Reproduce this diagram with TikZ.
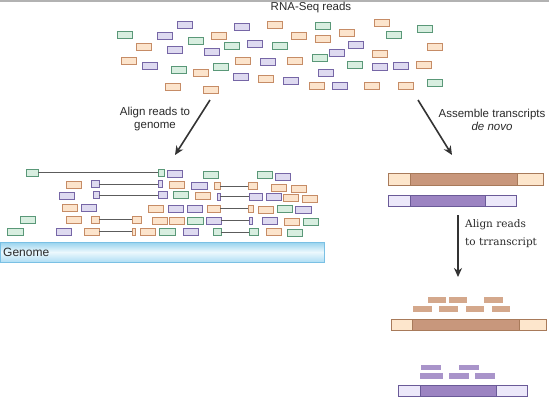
\documentclass[tikz,border=0pt]{standalone}
\usepackage{fontspec}
\setmainfont{Liberation Sans}
\newfontfamily\serifb{DejaVu Serif}
\usetikzlibrary{arrows.meta}
\definecolor{gB}{HTML}{5A9878}\definecolor{gF}{HTML}{D8EEE0}
\definecolor{pB}{HTML}{7666A6}\definecolor{pF}{HTML}{DEDAF0}
\definecolor{oB}{HTML}{C68C66}\definecolor{oF}{HTML}{FCE4CC}
\definecolor{txt}{HTML}{2A2A2A}
\definecolor{arr}{HTML}{333333}
\definecolor{trOB}{HTML}{A87A5A}\definecolor{trOL}{HTML}{FDE6CC}\definecolor{trOD}{HTML}{C8977C}
\definecolor{trPB}{HTML}{6A5A98}\definecolor{trPL}{HTML}{ECE8FA}\definecolor{trPD}{HTML}{9C84C2}
\definecolor{srO}{HTML}{D4A88C}\definecolor{srP}{HTML}{A994CA}
\tikzset{
  read/.style={rectangle, inner sep=0pt, line width=0.9pt, minimum width=15pt, minimum height=7pt},
  g/.style={read, draw=gB, fill=gF},
  p/.style={read, draw=pB, fill=pF},
  o/.style={read, draw=oB, fill=oF},
  splice/.style={draw=arr!80, line width=0.7pt},
  bigarrow/.style={draw=arr, line width=1.6pt, -{Stealth[length=9pt,width=8pt]}},
  lbl/.style={font=\fontsize{11.5}{13}\selectfont, text=txt, align=center, inner sep=0pt},
}
% aligned read: name, style, x1, x2, yc
\newcommand\arr[5]{\node[#2, minimum width={(#4-#3)*1pt}] (#1) at ({(#3+#4)/2},#5) {};}
% small right read: name, colour, x1, x2, y1, y2
\newcommand\srd[6]{\node[rectangle, inner sep=0pt, fill=#2, minimum width={(#4-#3)*1pt}, minimum height={(#6-#5)*1pt}] (#1) at ({(#3+#4)/2},{(#5+#6)/2}) {};}
\begin{document}
\begin{tikzpicture}[x=1pt,y=-1pt]
\useasboundingbox (0,0) rectangle (549,410);
\fill[white] (0,0) rectangle (549,410);
\draw[black!30, line width=1.5pt] (0,0.75) -- (549,0.75);

% ---- raw reads
\node[lbl] (title) at (311,8) {RNA-Seq reads};
\foreach \s/\x/\y [count=\i] in {
 g/125/34.5, p/184.5/24.5, p/164.5/35.5, o/143.5/46.5, p/174.5/49.5, o/128.5/60.5,
 p/149.5/65.5, g/178.5/69.5, o/172.5/86.5, g/195.5/40.5, o/218.5/35.5, p/211.5/51.5,
 g/231.5/45.5, p/241.5/26.5, p/254.5/43.5, o/200.5/72.5, g/220.5/66.5, o/210.5/89.5,
 o/242.5/60.5, p/240.5/76.5, o/274.5/24.5, g/279.5/45.5, p/267.5/61.5, o/265.5/78.5,
 p/290.5/80.5, o/294.5/60.5, o/298.5/35.5, g/322.5/25.5, o/322.5/38.5, o/346.5/32.5,
 p/355.5/44.5, p/336.5/52.5, g/319.5/57.5, p/325.5/72.5, o/316.5/85.5, p/339.5/85.5,
 g/354.5/64.5, o/379.5/53.5, p/379.5/67, p/400.5/65.5, o/371.5/86, o/381.5/22.5,
 g/393.5/35, g/424.5/28.5, o/434.5/47, o/423.5/64.5, o/405.5/85.5, g/434.5/82.5}
 { \node[\s] (r\i) at (\x,\y) {}; }

% ---- arrows and labels
\coordinate (la0) at (210,100); \coordinate (la1) at (175,155);
\coordinate (ra0) at (418,100); \coordinate (ra1) at (452,155);
\draw[bigarrow] (la0) -- (la1);
\draw[bigarrow] (ra0) -- (ra1);
\node[lbl] (alg) at (155,119.5) {Align reads to\\genome};
\node[lbl] (asm) at (492,119.5) {Assemble transcripts\\\textit{de novo}};

% ---- genome
\node[rectangle, inner sep=0pt, minimum width=324pt, minimum height=20pt, draw={rgb,255:red,122;green,192;blue,228}, line width=0.8pt,
  top color={rgb,255:red,150;green,210;blue,238}, bottom color={rgb,255:red,176;green,222;blue,244}, middle color={rgb,255:red,236;green,248;blue,253}]
  (genome) at (162,252) {};
\node[anchor=west, inner sep=0pt, font=\fontsize{12}{14}\selectfont, text=txt] (gtext) at (3,252.5) {Genome};

% ---- aligned reads
% row 1
\arr{a1}{g}{26}{38}{172.5}\arr{a2}{g}{158}{164}{172.5}\draw[splice] (a1) -- (a2);
\arr{a3}{p}{167}{182}{173.5}\arr{a4}{g}{203}{218}{175}\arr{a5}{g}{257}{272}{175}\arr{a6}{p}{275}{290}{176.5}
% row 2
\arr{b0}{o}{66}{81}{185}
\arr{b1}{p}{91}{99}{184}\arr{b2}{p}{158}{162}{184}\draw[splice] (b1) -- (b2);
\arr{b3}{o}{169}{184}{185}\arr{b4}{p}{191}{207}{186}
\arr{c1}{o}{214}{220}{186}\arr{c2}{o}{248}{257}{186}\draw[splice] (c1) -- (c2);
\arr{b5}{o}{271}{286}{187.5}\arr{b6}{o}{291}{306}{188.5}
% row 3
\arr{d0}{p}{59}{74}{196}
\arr{d1}{p}{93}{99}{195}\arr{d2}{p}{158}{167}{195}\draw[splice] (d1) -- (d2);
\arr{d3}{g}{173}{188}{195}\arr{d4}{o}{195}{210}{196}
\arr{e1}{p}{217}{220}{196.5}\arr{e2}{p}{249}{262}{196.5}\draw[splice] (e1) -- (e2);
\arr{d5}{p}{266}{281}{196.5}\arr{d6}{o}{283}{298}{197.5}\arr{d7}{o}{302}{317}{198.5}
% row 4
\arr{f3}{o}{62}{77}{208}\arr{f4}{p}{81}{96}{208}\arr{f5}{o}{148}{163}{208.5}\arr{f6}{p}{168}{183}{208.5}\arr{f7}{p}{187}{202}{208.5}
\arr{f1}{o}{207}{220}{208.5}\arr{f2}{o}{248}{253}{208.5}\draw[splice] (f1) -- (f2);
\arr{f8}{o}{258}{273}{209.5}\arr{f9}{g}{277}{292}{209}\arr{f10}{p}{295}{311}{209.5}
% row 5
\arr{h3}{g}{20}{35}{219.5}\arr{h4}{o}{66}{81}{219.5}
\arr{h1}{o}{91}{99}{219.5}\arr{h2}{o}{132}{141}{219.5}\draw[splice] (h1) -- (h2);
\arr{h5}{o}{152}{167}{220.5}\arr{h6}{o}{169}{184}{220.5}\arr{h7}{g}{187}{203}{220.5}
\arr{i1}{p}{206}{221}{220.5}\arr{i2}{p}{249}{252}{220.5}\draw[splice] (i1) -- (i2);
\arr{h8}{p}{262}{277}{220.5}\arr{h9}{o}{284}{299}{222}\arr{h10}{g}{303}{318}{221.5}
% row 6
\arr{j3}{g}{7}{23}{231.5}\arr{j4}{p}{56}{71}{231.5}
\arr{j1}{o}{84}{99}{231.5}\arr{j2}{o}{132}{135}{231.5}\draw[splice] (j1) -- (j2);
\arr{j5}{o}{140}{155}{231.5}\arr{j6}{g}{159}{175}{232}\arr{j7}{p}{183}{198}{232}
\arr{k1}{g}{213}{221}{232}\arr{k2}{g}{249}{258}{232}\draw[splice] (k1) -- (k2);
\arr{j8}{o}{266}{281}{232}\arr{j9}{g}{287}{302}{233}

% ---- transcripts
% orange 1
\fill[trOL] (388,173) rectangle (543,185);
\fill[trOD] (410,173) rectangle (517,185);
\draw[trOB, line width=0.8pt] (388,173) rectangle (543,185) (410,173) -- (410,185) (517,173) -- (517,185);
\node[inner sep=0pt, minimum width=155pt, minimum height=12pt] (t1) at (465.5,179) {};
% purple 1
\fill[trPL] (388,195) rectangle (516,206);
\fill[trPD] (410,195) rectangle (485,206);
\draw[trPB, line width=0.8pt] (388,195) rectangle (516,206) (410,195) -- (410,206) (485,195) -- (485,206);
\node[inner sep=0pt, minimum width=128pt, minimum height=11pt] (t2) at (452,200.5) {};

\coordinate (va0) at (458,215); \coordinate (va1) at (458,277);
\draw[bigarrow] (va0) -- (va1);
\node[anchor=north west, inner sep=0pt, align=left, text=txt, font=\serifb\fontsize{10.5}{18.5}\selectfont] (atr) at (465,219) {Align reads\\to trranscript};

% orange 2 with reads
\srd{s1}{srO}{428}{446}{297}{303}\srd{s2}{srO}{449}{467}{297}{303}\srd{s3}{srO}{484}{503}{297}{303}
\srd{s4}{srO}{413}{432}{306}{311.5}\srd{s5}{srO}{439}{458}{306}{311.5}\srd{s6}{srO}{466}{484}{306}{311.5}\srd{s7}{srO}{492}{510}{306}{311.5}
\fill[trOL] (391,319) rectangle (546,330);
\fill[trOD] (412,319) rectangle (519,330);
\draw[trOB, line width=0.8pt] (391,319) rectangle (546,330) (412,319) -- (412,330) (519,319) -- (519,330);
\node[inner sep=0pt, minimum width=155pt, minimum height=11pt] (t3) at (468.5,324.5) {};

% purple 2 with reads
\srd{q1}{srP}{421}{441}{365}{370}\srd{q2}{srP}{459}{479}{365}{370}
\srd{q3}{srP}{420}{443}{373}{379}\srd{q4}{srP}{449}{469}{373}{379}\srd{q5}{srP}{475}{495}{373}{379}
\fill[trPL] (398,385) rectangle (527,396);
\fill[trPD] (420,385) rectangle (496,396);
\draw[trPB, line width=0.8pt] (398,385) rectangle (527,396) (420,385) -- (420,396) (496,385) -- (496,396);
\node[inner sep=0pt, minimum width=129pt, minimum height=11pt] (t4) at (462.5,390.5) {};
\end{tikzpicture}
\end{document}
